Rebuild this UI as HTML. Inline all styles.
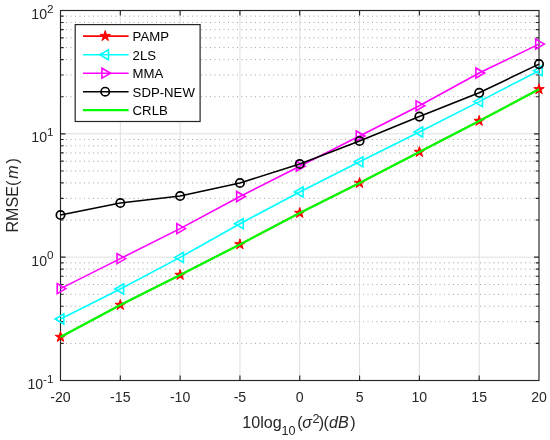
<!DOCTYPE html>
<html><head><meta charset="utf-8"><title>RMSE plot</title>
<style>html,body{margin:0;padding:0;background:#fff}body{width:550px;height:440px;overflow:hidden}</style>
</head><body>
<svg width="550" height="440" viewBox="0 0 550 440" style="display:block">
<rect width="550" height="440" fill="#fff"/>
<g stroke="#a2a2a2" stroke-width="1" stroke-dasharray="1 3.5" fill="none">
<path d="M66.00 343.37H539.0"/>
<path d="M66.00 321.66H539.0"/>
<path d="M66.00 306.25H539.0"/>
<path d="M66.00 294.29H539.0"/>
<path d="M66.00 284.53H539.0"/>
<path d="M66.00 276.27H539.0"/>
<path d="M66.00 269.12H539.0"/>
<path d="M66.00 262.81H539.0"/>
<path d="M66.00 220.04H539.0"/>
<path d="M66.00 198.32H539.0"/>
<path d="M66.00 182.91H539.0"/>
<path d="M66.00 170.96H539.0"/>
<path d="M66.00 161.19H539.0"/>
<path d="M66.00 152.94H539.0"/>
<path d="M66.00 145.79H539.0"/>
<path d="M66.00 139.48H539.0"/>
<path d="M66.00 96.71H539.0"/>
<path d="M66.00 74.99H539.0"/>
<path d="M66.00 59.58H539.0"/>
<path d="M66.00 47.63H539.0"/>
<path d="M66.00 37.86H539.0"/>
<path d="M66.00 29.60H539.0"/>
<path d="M66.00 22.45H539.0"/>
<path d="M66.00 16.14H539.0"/>
</g>
<g stroke="#dfdfdf" stroke-width="1" fill="none">
<path d="M120.31 10.5V380.5"/>
<path d="M180.12 10.5V380.5"/>
<path d="M239.94 10.5V380.5"/>
<path d="M299.75 10.5V380.5"/>
<path d="M359.56 10.5V380.5"/>
<path d="M419.38 10.5V380.5"/>
<path d="M479.19 10.5V380.5"/>
<path d="M60.5 257.17H539.0"/>
<path d="M60.5 133.83H539.0"/>
</g>
<g stroke="#262626" stroke-width="1.15" fill="none">
<rect x="60.5" y="10.5" width="478.5" height="370.0"/>
<path d="M120.31 380.5v-5M120.31 10.5v5"/>
<path d="M180.12 380.5v-5M180.12 10.5v5"/>
<path d="M239.94 380.5v-5M239.94 10.5v5"/>
<path d="M299.75 380.5v-5M299.75 10.5v5"/>
<path d="M359.56 380.5v-5M359.56 10.5v5"/>
<path d="M419.38 380.5v-5M419.38 10.5v5"/>
<path d="M479.19 380.5v-5M479.19 10.5v5"/>
<path d="M60.5 343.37h3.2M539.0 343.37h-3.2"/>
<path d="M60.5 321.66h3.2M539.0 321.66h-3.2"/>
<path d="M60.5 306.25h3.2M539.0 306.25h-3.2"/>
<path d="M60.5 294.29h3.2M539.0 294.29h-3.2"/>
<path d="M60.5 284.53h3.2M539.0 284.53h-3.2"/>
<path d="M60.5 276.27h3.2M539.0 276.27h-3.2"/>
<path d="M60.5 269.12h3.2M539.0 269.12h-3.2"/>
<path d="M60.5 262.81h3.2M539.0 262.81h-3.2"/>
<path d="M60.5 257.17h5M539.0 257.17h-5"/>
<path d="M60.5 220.04h3.2M539.0 220.04h-3.2"/>
<path d="M60.5 198.32h3.2M539.0 198.32h-3.2"/>
<path d="M60.5 182.91h3.2M539.0 182.91h-3.2"/>
<path d="M60.5 170.96h3.2M539.0 170.96h-3.2"/>
<path d="M60.5 161.19h3.2M539.0 161.19h-3.2"/>
<path d="M60.5 152.94h3.2M539.0 152.94h-3.2"/>
<path d="M60.5 145.79h3.2M539.0 145.79h-3.2"/>
<path d="M60.5 139.48h3.2M539.0 139.48h-3.2"/>
<path d="M60.5 133.83h5M539.0 133.83h-5"/>
<path d="M60.5 96.71h3.2M539.0 96.71h-3.2"/>
<path d="M60.5 74.99h3.2M539.0 74.99h-3.2"/>
<path d="M60.5 59.58h3.2M539.0 59.58h-3.2"/>
<path d="M60.5 47.63h3.2M539.0 47.63h-3.2"/>
<path d="M60.5 37.86h3.2M539.0 37.86h-3.2"/>
<path d="M60.5 29.60h3.2M539.0 29.60h-3.2"/>
<path d="M60.5 22.45h3.2M539.0 22.45h-3.2"/>
<path d="M60.5 16.14h3.2M539.0 16.14h-3.2"/>
</g>
<g fill="none" stroke-width="1.2" stroke-linejoin="miter">
<polyline points="60.50,337.00 120.31,305.00 180.12,275.00 239.94,244.40 299.75,213.00 359.56,183.00 419.38,152.00 479.19,121.00 539.00,89.30" stroke="#ff0000" stroke-width="1.6"/>
<g stroke="#ff0000" fill="#ff0000" stroke-width="1.0"><polygon points="60.50,331.50 61.73,335.30 65.73,335.30 62.50,337.65 63.73,341.45 60.50,339.10 57.27,341.45 58.50,337.65 55.27,335.30 59.27,335.30"/><polygon points="120.31,299.50 121.55,303.30 125.54,303.30 122.31,305.65 123.55,309.45 120.31,307.10 117.08,309.45 118.32,305.65 115.08,303.30 119.08,303.30"/><polygon points="180.12,269.50 181.36,273.30 185.36,273.30 182.12,275.65 183.36,279.45 180.12,277.10 176.89,279.45 178.13,275.65 174.89,273.30 178.89,273.30"/><polygon points="239.94,238.90 241.17,242.70 245.17,242.70 241.93,245.05 243.17,248.85 239.94,246.50 236.70,248.85 237.94,245.05 234.71,242.70 238.70,242.70"/><polygon points="299.75,207.50 300.98,211.30 304.98,211.30 301.75,213.65 302.98,217.45 299.75,215.10 296.52,217.45 297.75,213.65 294.52,211.30 298.52,211.30"/><polygon points="359.56,177.50 360.80,181.30 364.79,181.30 361.56,183.65 362.80,187.45 359.56,185.10 356.33,187.45 357.57,183.65 354.33,181.30 358.33,181.30"/><polygon points="419.38,146.50 420.61,150.30 424.61,150.30 421.37,152.65 422.61,156.45 419.38,154.10 416.14,156.45 417.38,152.65 414.14,150.30 418.14,150.30"/><polygon points="479.19,115.50 480.42,119.30 484.42,119.30 481.18,121.65 482.42,125.45 479.19,123.10 475.95,125.45 477.19,121.65 473.96,119.30 477.95,119.30"/><polygon points="539.00,83.80 540.23,87.60 544.23,87.60 541.00,89.95 542.23,93.75 539.00,91.40 535.77,93.75 537.00,89.95 533.77,87.60 537.77,87.60"/></g>
<polyline points="60.50,319.00 120.31,289.00 180.12,257.40 239.94,223.70 299.75,192.00 359.56,161.80 419.38,132.00 479.19,101.60 539.00,70.70" stroke="#00ffff" stroke-width="1.6"/>
<g stroke="#00ffff" stroke-width="1.6"><polygon points="55.10,319.00 63.80,314.00 63.80,324.00"/><polygon points="114.91,289.00 123.61,284.00 123.61,294.00"/><polygon points="174.72,257.40 183.43,252.40 183.43,262.40"/><polygon points="234.54,223.70 243.24,218.70 243.24,228.70"/><polygon points="294.35,192.00 303.05,187.00 303.05,197.00"/><polygon points="354.16,161.80 362.86,156.80 362.86,166.80"/><polygon points="413.98,132.00 422.68,127.00 422.68,137.00"/><polygon points="473.79,101.60 482.49,96.60 482.49,106.60"/><polygon points="533.60,70.70 542.30,65.70 542.30,75.70"/></g>
<polyline points="60.50,288.60 120.31,258.60 180.12,228.60 239.94,196.50 299.75,166.20 359.56,136.00 419.38,105.80 479.19,73.00 539.00,44.10" stroke="#ff00ff" stroke-width="1.6"/>
<g stroke="#ff00ff" stroke-width="1.6"><polygon points="65.90,288.60 57.20,283.60 57.20,293.60"/><polygon points="125.71,258.60 117.01,253.60 117.01,263.60"/><polygon points="185.53,228.60 176.82,223.60 176.82,233.60"/><polygon points="245.34,196.50 236.64,191.50 236.64,201.50"/><polygon points="305.15,166.20 296.45,161.20 296.45,171.20"/><polygon points="364.96,136.00 356.26,131.00 356.26,141.00"/><polygon points="424.77,105.80 416.07,100.80 416.07,110.80"/><polygon points="484.59,73.00 475.89,68.00 475.89,78.00"/><polygon points="544.40,44.10 535.70,39.10 535.70,49.10"/></g>
<polyline points="60.50,215.00 120.31,203.00 180.12,196.00 239.94,183.00 299.75,164.00 359.56,141.00 419.38,116.60 479.19,92.80 539.00,64.10" stroke="#000" stroke-width="1.6"/>
<g stroke="#000" stroke-width="1.7"><circle cx="60.50" cy="215.00" r="4.2"/><circle cx="120.31" cy="203.00" r="4.2"/><circle cx="180.12" cy="196.00" r="4.2"/><circle cx="239.94" cy="183.00" r="4.2"/><circle cx="299.75" cy="164.00" r="4.2"/><circle cx="359.56" cy="141.00" r="4.2"/><circle cx="419.38" cy="116.60" r="4.2"/><circle cx="479.19" cy="92.80" r="4.2"/><circle cx="539.00" cy="64.10" r="4.2"/></g>
<polyline points="60.50,337.00 120.31,305.00 180.12,275.00 239.94,244.40 299.75,213.00 359.56,183.00 419.38,152.00 479.19,121.00 539.00,89.30" stroke="#00ff00" stroke-width="2.25"/>
</g>
<g font-family="Liberation Sans, Arial, Helvetica, sans-serif" fill="#262626" font-size="14.1">
<text x="60.50" y="401.6" text-anchor="middle">-20</text>
<text x="120.31" y="401.6" text-anchor="middle">-15</text>
<text x="180.12" y="401.6" text-anchor="middle">-10</text>
<text x="239.94" y="401.6" text-anchor="middle">-5</text>
<text x="299.75" y="401.6" text-anchor="middle">0</text>
<text x="359.56" y="401.6" text-anchor="middle">5</text>
<text x="419.38" y="401.6" text-anchor="middle">10</text>
<text x="479.19" y="401.6" text-anchor="middle">15</text>
<text x="539.00" y="401.6" text-anchor="middle">20</text>
<text x="53.5" y="19.10" text-anchor="end">10<tspan font-size="11.7" dy="-6.3">2</tspan></text>
<text x="53.5" y="142.43" text-anchor="end">10<tspan font-size="11.7" dy="-6.3">1</tspan></text>
<text x="53.5" y="265.77" text-anchor="end">10<tspan font-size="11.7" dy="-6.3">0</tspan></text>
<text x="53.5" y="389.10" text-anchor="end">10<tspan font-size="11.7" dy="-6.3">-1</tspan></text>
</g>
<g font-family="Liberation Sans, Arial, Helvetica, sans-serif" fill="#262626" font-size="16.1">
<text y="427.8"><tspan x="242.3">10log</tspan><tspan x="281.4" font-size="12.6" dy="7.4">10</tspan><tspan x="297.2" dy="-7.4">(</tspan><tspan x="302.3" font-style="italic">σ</tspan><tspan x="312.5" font-size="12.6" dy="-4.4">2</tspan><tspan x="318.8" dy="4.4">)</tspan><tspan x="323.4">(</tspan><tspan x="329" font-style="italic">dB</tspan><tspan x="350.2">)</tspan></text>
<text transform="translate(18.4,232.6) rotate(-90)">RMSE(<tspan font-style="italic" dx="2">m</tspan><tspan dx="1.8">)</tspan></text>
</g>
<rect x="75.2" y="24.6" width="124.89999999999999" height="96.9" fill="#fff" stroke="#262626" stroke-width="1.2"/>
<g fill="none">
<path d="M83 36.1H128.6" stroke="#ff0000" stroke-width="1.6"/><g stroke="#ff0000" fill="#ff0000" stroke-width="1.0"><polygon points="105.20,30.60 106.43,34.40 110.43,34.40 107.20,36.75 108.43,40.55 105.20,38.20 101.97,40.55 103.20,36.75 99.97,34.40 103.97,34.40"/></g>
<path d="M83 54.8H128.6" stroke="#00ffff" stroke-width="1.6"/><g stroke="#00ffff" stroke-width="1.6"><polygon points="99.80,54.80 108.50,49.80 108.50,59.80"/></g>
<path d="M83 73.2H128.6" stroke="#ff00ff" stroke-width="1.6"/><g stroke="#ff00ff" stroke-width="1.6"><polygon points="110.60,73.20 101.90,68.20 101.90,78.20"/></g>
<path d="M83 91.7H128.6" stroke="#000" stroke-width="1.6"/><g stroke="#000" stroke-width="1.7"><circle cx="105.20" cy="91.70" r="4.2"/></g>
<path d="M83 110.1H128.6" stroke="#00ff00" stroke-width="2.25"/>
</g>
<g font-family="Liberation Sans, Arial, Helvetica, sans-serif" fill="#000" font-size="13.2">
<text x="132.6" y="41.10">PAMP</text>
<text x="132.6" y="59.80">2LS</text>
<text x="132.6" y="78.20">MMA</text>
<text x="132.6" y="96.70">SDP-NEW</text>
<text x="132.6" y="115.10">CRLB</text>
</g>
</svg>
</body></html>
